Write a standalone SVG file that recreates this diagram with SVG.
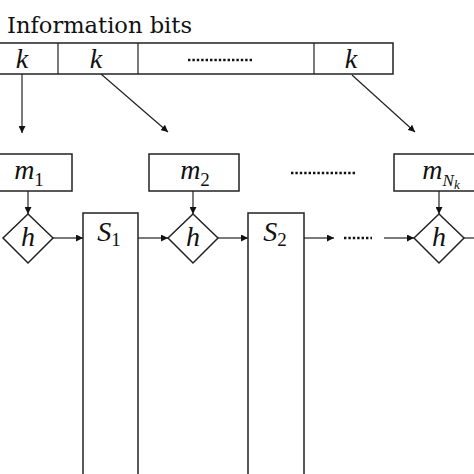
<svg xmlns="http://www.w3.org/2000/svg" width="474" height="474" viewBox="0 0 474 474">
<defs>
<style>
.box{fill:#fff;stroke:#222;stroke-width:1.5}
.ln{stroke:#222;stroke-width:1.2;fill:none}
.mi{font-family:"Liberation Serif","DejaVu Serif",serif;font-style:italic;font-size:28px;fill:#111}
.sub{font-family:"Liberation Serif","DejaVu Serif",serif;font-size:19px;fill:#111}
.title{font-family:"DejaVu Serif","Liberation Serif",serif;font-size:23px;fill:#111}
.dots{stroke:#111;stroke-width:2.6;stroke-dasharray:2.4 2;fill:none}
</style>
<marker id="ah" viewBox="0 0 10 10" refX="10" refY="5" markerWidth="7" markerHeight="7" markerUnits="userSpaceOnUse" orient="auto">
<path d="M0,0 L10,5 L0,10 z" fill="#111"/>
</marker>
</defs>
<rect width="474" height="474" fill="#fff"/>
<text class="title" x="7" y="33" textLength="185" lengthAdjust="spacingAndGlyphs">Information bits</text>
<g id="bar">
<rect class="box" x="-5" y="43" width="398" height="31"/>
<line class="ln" x1="58" y1="43" x2="58" y2="74"/>
<line class="ln" x1="138" y1="43" x2="138" y2="74"/>
<line class="ln" x1="314" y1="43" x2="314" y2="74"/>
<text class="mi" x="22" y="68" text-anchor="middle">k</text>
<text class="mi" x="96" y="68" text-anchor="middle">k</text>
<text class="mi" x="351" y="68" text-anchor="middle">k</text>
<line class="dots" x1="188" y1="60" x2="254" y2="60"/>
</g>
<g id="m1"><rect class="box" x="-5" y="154" width="77" height="37"/>
<text x="29" y="179" text-anchor="middle"><tspan class="mi">m</tspan><tspan class="sub" dy="7">1</tspan></text></g>
<g id="m2"><rect class="box" x="149" y="154" width="90" height="37"/>
<text x="195" y="179" text-anchor="middle"><tspan class="mi">m</tspan><tspan class="sub" dy="7">2</tspan></text></g>
<g id="mN"><rect class="box" x="394" y="154" width="85" height="37"/>
<text x="441" y="179" text-anchor="middle"><tspan class="mi">m</tspan><tspan class="mi" style="font-size:17px" dy="7">N</tspan><tspan class="mi" style="font-size:13px" dy="3">k</tspan></text></g>
<line class="dots" x1="291" y1="173" x2="357" y2="173"/>
<g id="h1"><polygon class="box" points="28,214 53,238 28,263 3,238"/><text class="mi" x="28" y="246" text-anchor="middle">h</text></g>
<g id="h2"><polygon class="box" points="193,214 218,238 193,263 168,238"/><text class="mi" x="193" y="246" text-anchor="middle">h</text></g>
<g id="h3"><polygon class="box" points="439,214 464,238 439,263 414,238"/><text class="mi" x="439" y="246" text-anchor="middle">h</text></g>
<g id="S1"><rect class="box" x="83" y="213" width="55" height="262"/>
<text x="109" y="241" text-anchor="middle"><tspan class="mi">S</tspan><tspan class="sub" dy="5">1</tspan></text></g>
<g id="S2"><rect class="box" x="248" y="213" width="56" height="262"/>
<text x="275" y="241" text-anchor="middle"><tspan class="mi">S</tspan><tspan class="sub" dy="5">2</tspan></text></g>
<line class="dots" x1="344" y1="238" x2="372" y2="238"/>
<g id="connectors">
<line class="ln" x1="22" y1="74" x2="22" y2="133" marker-end="url(#ah)"/>
<line class="ln" x1="101" y1="74" x2="168" y2="132" marker-end="url(#ah)"/>
<line class="ln" x1="352" y1="75" x2="415" y2="132" marker-end="url(#ah)"/>
<line class="ln" x1="28" y1="191" x2="28" y2="214" marker-end="url(#ah)"/>
<line class="ln" x1="193" y1="191" x2="193" y2="214" marker-end="url(#ah)"/>
<line class="ln" x1="439" y1="191" x2="439" y2="214" marker-end="url(#ah)"/>
<line class="ln" x1="53" y1="238" x2="83" y2="238" marker-end="url(#ah)"/>
<line class="ln" x1="138" y1="238" x2="168" y2="238" marker-end="url(#ah)"/>
<line class="ln" x1="218" y1="238" x2="248" y2="238" marker-end="url(#ah)"/>
<line class="ln" x1="304" y1="238" x2="334" y2="238" marker-end="url(#ah)"/>
<line class="ln" x1="384" y1="238" x2="414" y2="238" marker-end="url(#ah)"/>
<line class="ln" x1="464" y1="238" x2="476" y2="238"/>
</g>
</svg>
